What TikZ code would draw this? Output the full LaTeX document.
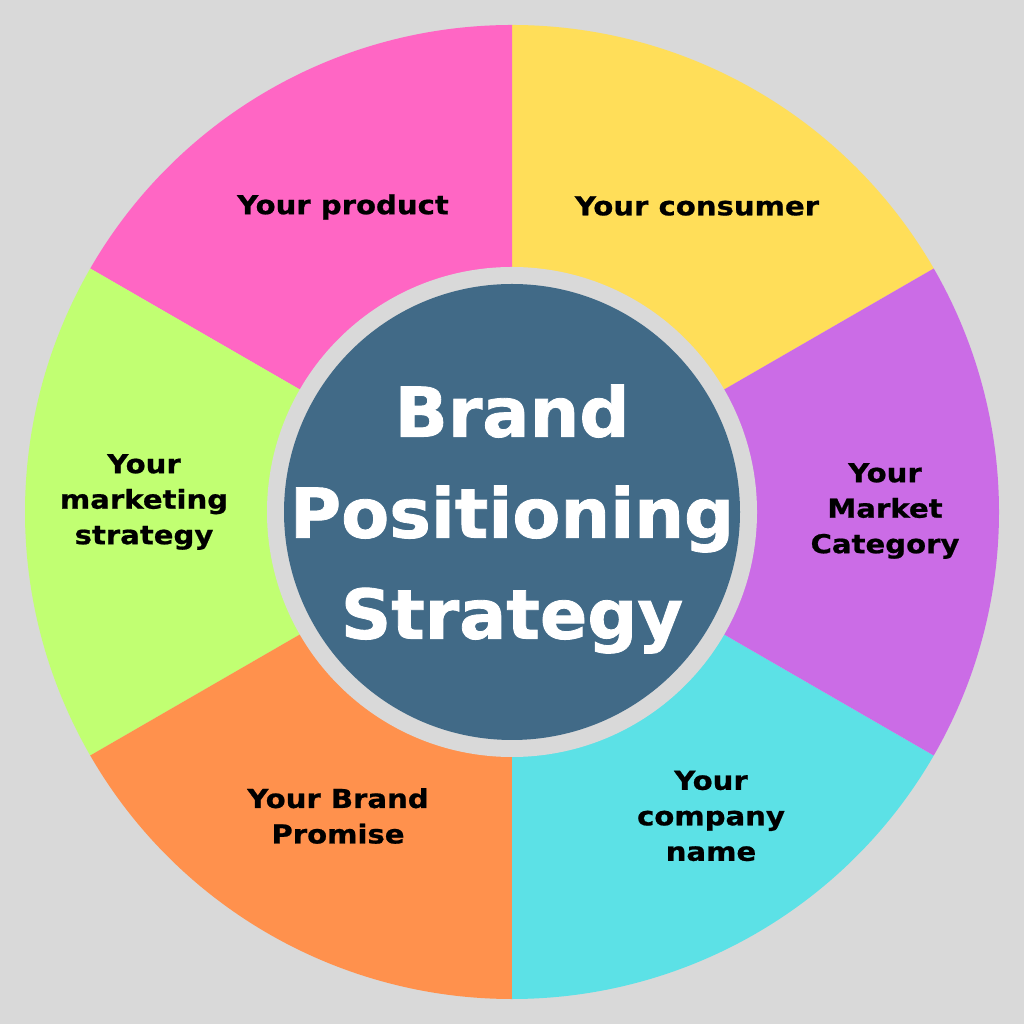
\documentclass[tikz,border=0pt]{standalone}
\usepackage{fontspec}
\setmainfont{DejaVu Sans}
\newfontfamily\lblfont{DejaVu Sans Bold}[FakeStretch=1.12, FakeBold=0.8]
\newfontfamily\ttlfont{DejaVu Sans Bold}[FakeStretch=1.02, FakeBold=1.2]
\definecolor{bgc}{HTML}{D9D9D9}
\definecolor{pinkc}{HTML}{FF66C4}
\definecolor{yellowc}{HTML}{FFDE59}
\definecolor{purplec}{HTML}{CB6CE6}
\definecolor{cyanc}{HTML}{5CE1E6}
\definecolor{orangec}{HTML}{FF914D}
\definecolor{limec}{HTML}{C1FF72}
\definecolor{bluec}{HTML}{416A87}
\tikzset{
  lbl/.style={align=center, text=black, font=\lblfont\fontsize{26bp}{35.5bp}\selectfont, inner sep=0pt},
  title/.style={align=center, text=white, font=\ttlfont\fontsize{68.6bp}{101bp}\selectfont, inner sep=0pt}
}
\begin{document}
\begin{tikzpicture}[x=1bp,y=1bp]
\useasboundingbox (0,0) rectangle (1024,1024);
\fill[bgc] (0,0) rectangle (1024,1024);
\coordinate (c) at (512,512);
\fill[yellowc] (c) -- ++(30:487bp) arc[start angle=30, end angle=90, radius=487bp] -- cycle;
\fill[pinkc] (c) -- ++(90:487bp) arc[start angle=90, end angle=150, radius=487bp] -- cycle;
\fill[limec] (c) -- ++(150:487bp) arc[start angle=150, end angle=210, radius=487bp] -- cycle;
\fill[orangec] (c) -- ++(210:487bp) arc[start angle=210, end angle=270, radius=487bp] -- cycle;
\fill[cyanc] (c) -- ++(270:487bp) arc[start angle=270, end angle=330, radius=487bp] -- cycle;
\fill[purplec] (c) -- ++(330:487bp) arc[start angle=330, end angle=390, radius=487bp] -- cycle;
\fill[bgc] (c) circle[radius=245bp];
\fill[bluec] (c) circle[radius=228bp];
\node[title] (t) at (512,505) {Brand\\Positioning\\Strategy};
\node[lbl] (product) at (343,817) {Your product};
\node[lbl] (consumer) at (697,818) {Your consumer};
\node[lbl] (market) at (885,513) {Your\\Market\\Category};
\node[lbl] (company) at (711,208) {Your\\company\\name};
\node[lbl] (promise) at (338,208) {Your Brand\\Promise};
\node[lbl] (marketing) at (144,522) {Your\\marketing\\strategy};
\end{tikzpicture}
\end{document}
